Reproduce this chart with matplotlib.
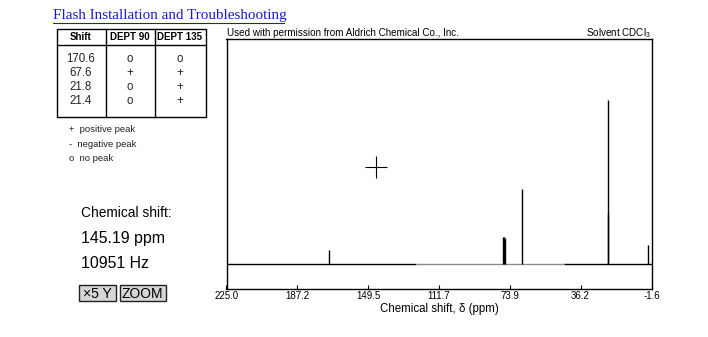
import matplotlib
matplotlib.use("Agg")
import matplotlib.pyplot as plt
from matplotlib.patches import Rectangle

plt.rcParams['font.family'] = ['Liberation Sans', 'DejaVu Sans']

W, H = 708, 337

# spectrum data (ppm, relative intensity)
peak_ppm = [170.6, 77.4, 77.0, 76.6, 67.6, 21.8, 21.4, 0.0]
peak_height = [8.4, 16.1, 16.1, 15.5, 45.8, 100.0, 30.7, 11.5]
baseline_ppm = [225.0, 124.0, 45.2, -1.6]
baseline_color = ['black', '#8c8c8c', 'black']

tick_ppm = [225.0, 187.2, 149.5, 111.7, 73.9, 36.2, -1.6]
tick_labels = ['225.0', '187.2', '149.5', '111.7', '73.9', '36.2', '-1.6']

cursor_ppm = 145.19
cursor_hz = 10951
cursor_y = 59.3

# DEPT table
shifts = ['170.6', '67.6', '21.8', '21.4']
dept90 = ['o', '+', 'o', 'o']
dept135 = ['o', '+', '+', '+']
legend_lines = ['+  positive peak', '-  negative peak', 'o  no peak']

fig = plt.figure(figsize=(W / 100, H / 100), dpi=100)

# overlay in pixel coords for the page-like parts
ov = fig.add_axes([0, 0, 1, 1])
ov.set_xlim(0, W)
ov.set_ylim(H, 0)
ov.axis('off')

ov.text(53, 16, 'Flash Installation and Troubleshooting', family='Liberation Serif',
        fontsize=10.9, color='#1a1acc', va='center', ha='left')
ov.plot([53, 284], [22.5, 22.5], color='#1a1acc', lw=0.8)

# table
lw = 1.0
ov.add_patch(Rectangle((56.5, 28.5), 149, 88, fill=False, lw=lw, ec='black'))
ov.plot([56.5, 205.5], [44.5, 44.5], color='black', lw=lw)
ov.plot([105.5, 105.5], [28.5, 116.5], color='black', lw=lw)
ov.plot([154.5, 154.5], [28.5, 116.5], color='black', lw=lw)
ov.text(80.5, 36.5, 'Shift', fontsize=7, weight='bold', ha='center', va='center')
ov.text(130, 36.5, 'DEPT 90', fontsize=7, weight='bold', ha='center', va='center')
ov.text(179.5, 36.5, 'DEPT 135', fontsize=7, weight='bold', ha='center', va='center')
for i in range(len(shifts)):
    y = 59 + i * 13.9
    ov.text(80.5, y, shifts[i], fontsize=8.3, ha='center', va='center', color='#222222')
    ov.text(129.5, y, dept90[i], fontsize=8.3, ha='center', va='center', color='#222222')
    ov.text(179.5, y, dept135[i], fontsize=8.3, ha='center', va='center', color='#222222')
for i, s in enumerate(legend_lines):
    ov.text(69, 130 + i * 14.2, s, fontsize=6.8, ha='left', va='center', color='#222222')

# cursor readout
ov.text(81, 213, 'Chemical shift:', fontsize=9.9, ha='left', va='center')
ov.text(81, 239, f'{cursor_ppm:.2f} ppm', fontsize=11.4, ha='left', va='center')
ov.text(81, 264, f'{cursor_hz} Hz', fontsize=11.4, ha='left', va='center')

for x0, x1, s in [(78.5, 115.5, '\u00d75 Y'), (119.5, 166, 'ZOOM')]:
    ov.add_patch(Rectangle((x0, 285), x1 - x0, 16, fc='#d6d6d6', ec='#222222', lw=1.0))
    ov.text((x0 + x1) / 2, 293.5, s, fontsize=10, ha='center', va='center')

ov.text(227, 33, 'Used with permission from Aldrich Chemical Co., Inc.', fontsize=7.1,
        ha='left', va='center')
ov.text(651, 33, 'Solvent CDCl$_{\\mathregular{3}}$', fontsize=7.1, ha='right', va='center')

# spectrum axes
ax = fig.add_axes([226.5 / W, (H - 288.5) / H, 425 / W, 249.5 / H])
ax.set_xlim(baseline_ppm[0], baseline_ppm[-1])
ax.set_ylim(-15.3, 137.4)
for i, c in enumerate(baseline_color):
    ax.plot(baseline_ppm[i:i + 2], [0, 0], color=c, lw=1.0, solid_capstyle='butt')
ax.vlines(peak_ppm, 0, peak_height, color='black', lw=1.0)
ax.plot([cursor_ppm], [cursor_y], marker='+', ms=16, mew=0.8, color='black')

ax.set_yticks([])
ax.set_xticks(tick_ppm)
ax.set_xticklabels(tick_labels, fontsize=7)
ax.tick_params(axis='x', direction='in', length=3, width=0.8, pad=2)
for sp in ax.spines.values():
    sp.set_linewidth(1.0)
ax.set_xlabel('Chemical shift, \u03b4 (ppm)', fontsize=8.3, labelpad=1)

fig.savefig('out.png', dpi=100)
